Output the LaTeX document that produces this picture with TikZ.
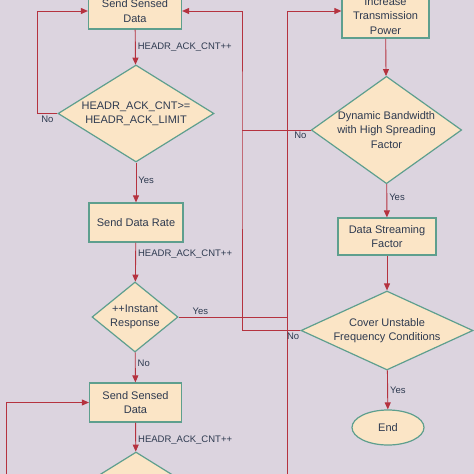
\documentclass[tikz,border=0pt]{standalone}
\usepackage{fontspec}
\setmainfont{Liberation Sans}
\usetikzlibrary{shapes.geometric,arrows.meta}
\definecolor{pagebg}{HTML}{DCD4DF}
\definecolor{boxfill}{HTML}{FBE5C6}
\definecolor{boxedge}{HTML}{5E9F8E}
\definecolor{flowred}{HTML}{B5323F}
\definecolor{inktext}{HTML}{2E3A50}

\tikzset{
  proc/.style={rectangle, draw=boxedge, fill=boxfill, line width=1.2pt,
    text=inktext, font=\fontsize{11}{14.5}\selectfont, align=center, inner sep=0pt},
  decide/.style={diamond, draw=boxedge, fill=boxfill, line width=1.2pt,
    text=inktext, font=\fontsize{11}{14.5}\selectfont, align=center, inner sep=0pt},
  term/.style={ellipse, draw=boxedge, fill=boxfill, line width=1.2pt,
    text=inktext, font=\fontsize{11}{14.5}\selectfont, inner sep=0pt},
  flow/.style={draw=flowred, line width=0.9pt, -{Triangle[length=7pt,width=6pt]}},
  wire/.style={draw=flowred, line width=0.9pt},
  lbl/.style={text=inktext, font=\fontsize{9.5}{11}\selectfont, inner sep=2pt}
}

\begin{document}
\begin{tikzpicture}[x=1pt, y=-1pt]
  % ---------- page ----------
  \fill[pagebg] (0,0) rectangle (474,474);
  \useasboundingbox (0,0) rectangle (474,474);
  \clip (0,0) rectangle (474,474);

  % ---------- left column ----------
  \node[proc, minimum width=93, minimum height=36] (ssdA) at (135,11) {Send Sensed\\Data};
  \node[decide, aspect=1.6, minimum width=156, minimum height=97] (ackA) at (136,113.5)
    {HEADR\_ACK\_CNT>=\\HEADR\_ACK\_LIMIT};
  \node[proc, minimum width=94, minimum height=39] (sdr) at (136,222.5) {Send Data Rate};
  \node[decide, aspect=1.23, minimum width=86, minimum height=70] (instant) at (135,317)
    {++Instant\\Response};
  \node[proc, minimum width=92, minimum height=39] (ssdB) at (135.5,402.5) {Send Sensed\\Data};
  \node[decide, aspect=1.6, minimum width=156, minimum height=97] (ackB) at (136,500.5) {};

  % ---------- right column ----------
  \node[proc, minimum width=87, minimum height=44] (itp) at (385.5,16)
    {Increase\\Transmission\\Power};
  \node[decide, aspect=1.4, minimum width=149, minimum height=106] (dyn) at (386.5,130)
    {Dynamic Bandwidth\\with High Spreading\\Factor};
  \node[proc, minimum width=98, minimum height=37] (dsf) at (387,236.5) {Data Streaming\\Factor};
  \node[decide, aspect=2.18, minimum width=172, minimum height=79] (cover) at (387,330.5)
    {Cover Unstable\\Frequency Conditions};
  \node[term, minimum width=72, minimum height=35] (end) at (388,427.5) {End};

  % ---------- junctions ----------
  \coordinate (ljoin) at (242,130);
  \coordinate (rjoin) at (287,317);
  \coordinate (rbot) at (287,474);
  \coordinate (lbot) at (6,474);

  % ---------- left column flow ----------
  \draw[flow] (ssdA) -- node[lbl, right, pos=0.5] {HEADR\_ACK\_CNT++} (ackA);
  \draw[flow] (ackA) -- node[lbl, right, pos=0.45] {Yes} (sdr);
  \draw[flow] (ackA.west) -- node[lbl, below, pos=0.5] {No} ++(-20,0) |- (ssdA.west);
  \draw[flow] (sdr) -- node[lbl, right, pos=0.3] {HEADR\_ACK\_CNT++} (instant);
  \draw[flow] (instant) -- node[lbl, right, pos=0.35] {No} (ssdB);
  \draw[flow] (instant.east) -- node[lbl, above, pos=0.2] {Yes} (rjoin) |- ([yshift=5pt]itp.west);
  \draw[wire] (rbot) -- (rjoin);
  \draw[flow] (ssdB) -- node[lbl, right, pos=0.6] {HEADR\_ACK\_CNT++} (ackB);
  \draw[flow] (lbot) |- (ssdB.west);

  % ---------- right column flow ----------
  \draw[flow] (itp) -- (dyn);
  \draw[flow] (dyn) -- node[lbl, right, pos=0.4] {Yes} (dsf);
  \draw[wire] (dyn.west) -- (ljoin);
  \node[lbl, anchor=north east] (dynno) at ([xshift=-2pt]dyn.west) {No};
  \draw[flow] (dsf) -- (cover);
  \draw[flow] (cover.west) -| (ljoin) |- (ssdA.east);
  \node[lbl, anchor=north east] (coverno) at ([xshift=1pt]cover.west) {No};
  \draw[flow] (cover) -- node[lbl, right, pos=0.5] {Yes} (end);
\end{tikzpicture}
\end{document}
